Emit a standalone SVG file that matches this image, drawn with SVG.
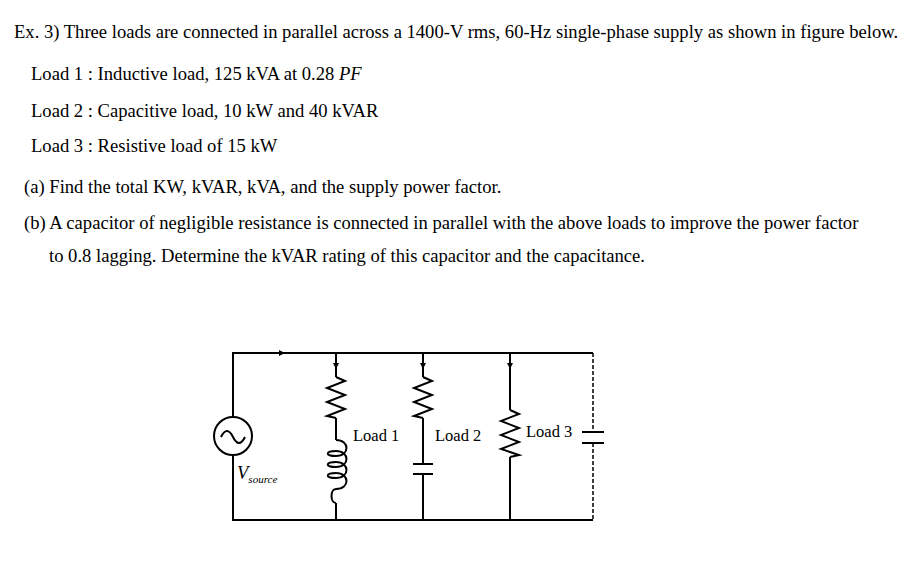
<svg xmlns="http://www.w3.org/2000/svg" width="910" height="573" viewBox="0 0 910 573">
<style>
text{font-family:"Liberation Serif",serif;font-size:18.6px;fill:#000}
.w{fill:none;stroke:#000;stroke-width:2}
.t{font-size:16.5px}
</style>
<defs><marker id="a" viewBox="0 0 6 6" refX="3" refY="3" markerWidth="3" markerHeight="3" orient="auto"><path d="M0,0L6,3L0,6z"/></marker></defs>
<rect width="910" height="573" fill="#fff"/>
<g id="text">
<text x="14" y="38">Ex. 3) Three loads are connected in parallel across a 1400-V rms, 60-Hz single-phase supply as shown in figure below.</text>
<text x="31" y="80">Load 1 : Inductive load, 125 kVA at 0.28 <tspan font-style="italic">PF</tspan></text>
<text x="31" y="117">Load 2 : Capacitive load, 10 kW and 40 kVAR</text>
<text x="31" y="152">Load 3 : Resistive load of 15 kW</text>
<text x="24" y="193">(a) Find the total KW, kVAR, kVA, and the supply power factor.</text>
<text x="24" y="229">(b) A capacitor of negligible resistance is connected in parallel with the above loads to improve the power factor</text>
<text x="49" y="262">to 0.8 lagging. Determine the kVAR rating of this capacitor and the capacitance.</text>
</g>
<g id="connectors" class="w">
<path d="M233,417V353H593M233,456V520H593"/>
<path d="M276,353H282" marker-end="url(#a)"/>
<path d="M336,353V377M336,418V440M336,503V520"/>
<path d="M336,360V366" marker-end="url(#a)"/>
<path d="M423,353V377M423,418V464M423,474V520"/>
<path d="M423,360V366" marker-end="url(#a)"/>
<path d="M510,353V410M510,457V520"/>
<path d="M510,360V366" marker-end="url(#a)"/>
<path d="M593,353V432M593,443V520" stroke-dasharray="4,2" stroke-width="1.5"/>
</g>
<g id="source"><circle cx="233" cy="436" r="19" class="w"/><path class="w" d="M221,437q6,-12 12,0t12,0"/><text x="237" y="479" font-style="italic">V<tspan font-size="11" dy="4">source</tspan></text></g>
<g id="load1"><path class="w" d="M336,377L345,381L327,388L345,395L327,402L345,409L327,416L336,418"/>
<path class="w" d="M336,440c14,0 14,16 0,16c-12,0 -10,-5 0,-5c14,0 14,16 0,16c-12,0 -10,-5 0,-5c14,0 14,16 0,16c-12,0 -10,-5 0,-5c14,0 14,16 0,16c-6,0 -6,14 0,14"/>
<text x="353" y="441" class="t">Load 1</text></g>
<g id="load2"><path class="w" d="M423,377L432,381L414,388L432,395L414,402L432,409L414,416L423,418"/>
<path class="w" d="M413,464H433M413,474H433"/>
<text x="435" y="441" class="t">Load 2</text></g>
<g id="load3"><path class="w" d="M510,410L519,414L501,421L519,428L501,435L519,442L501,449L519,455L510,457"/>
<text x="526" y="437" class="t">Load 3</text></g>
<g id="cap"><path class="w" d="M582,432H604M582,443H604"/></g>
</svg>
